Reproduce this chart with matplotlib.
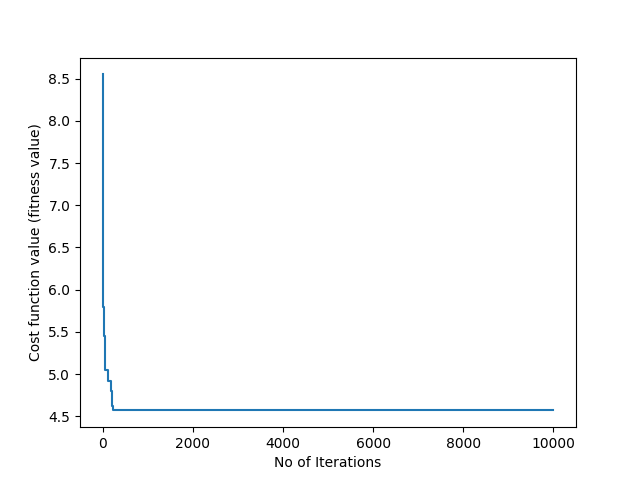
import matplotlib
matplotlib.use("Agg")
import matplotlib.pyplot as plt

iterations = [0, 2, 5, 10, 20, 35, 45, 55, 65, 110, 190, 215, 240, 10000]
cost = [8.55, 7.2, 6.3, 6.0, 5.8, 5.45, 5.3, 5.25, 5.05, 4.92, 4.80, 4.62, 4.57, 4.57]

fig, ax = plt.subplots(figsize=(6.4, 4.8), dpi=100)
ax.step(iterations, cost, where="post")
ax.set_xlabel("No of Iterations")
ax.set_ylabel("Cost function value (fitness value)")
fig.savefig("out.png")
